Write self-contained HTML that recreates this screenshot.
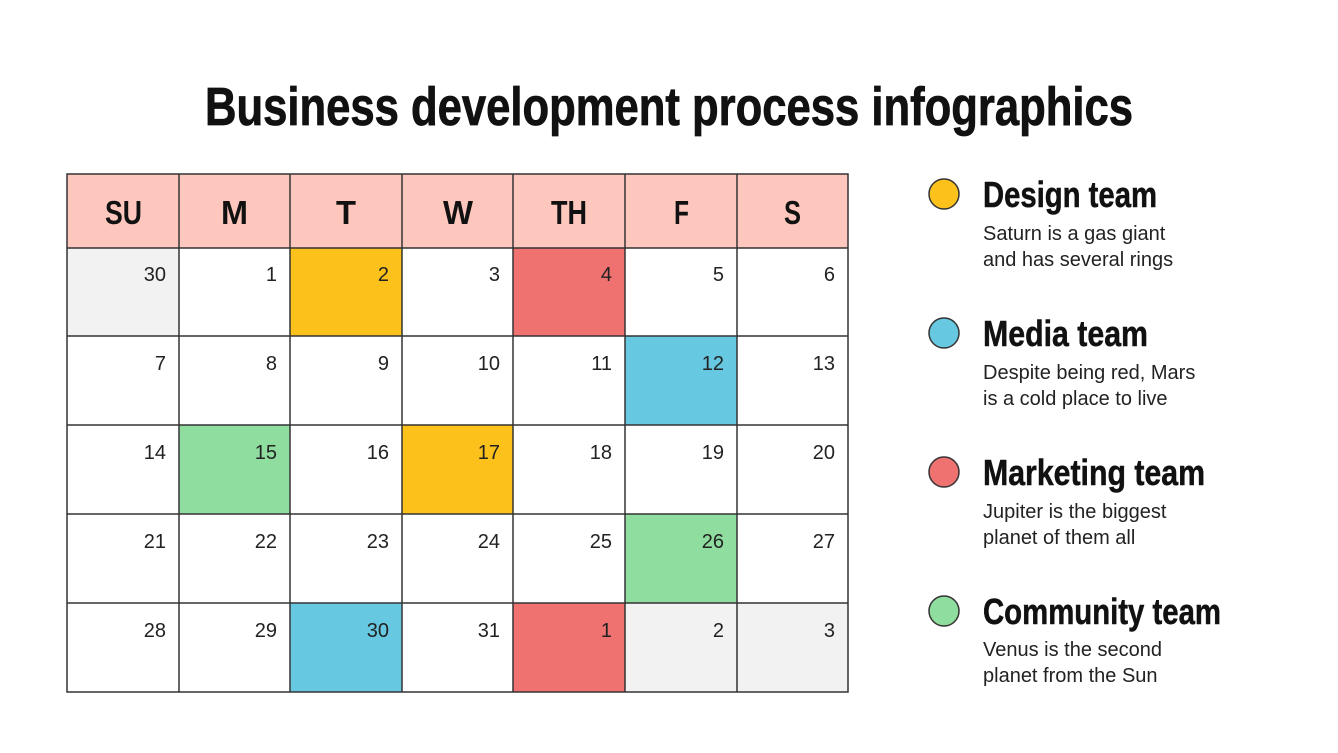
<!DOCTYPE html>
<html><head><meta charset="utf-8"><style>body{margin:0;background:#fff}svg{display:block}</style></head><body>
<svg width="1338" height="753" xmlns="http://www.w3.org/2000/svg" font-family="Liberation Sans, sans-serif">
<rect width="1338" height="753" fill="#fff"/>
<text x="669" y="125" text-anchor="middle" font-family="Liberation Sans Narrow, Liberation Sans, sans-serif" font-weight="bold" font-size="54" textLength="928" lengthAdjust="spacingAndGlyphs" fill="#111" stroke="#111" stroke-width="0.8">Business development process infographics</text>
<g id="cal">
<rect x="67" y="174" width="781" height="74" fill="#fdc7bd"/>
<rect x="67" y="248" width="112" height="88" fill="#f2f2f2"/>
<rect x="290" y="248" width="112" height="88" fill="#fcc11b"/>
<rect x="513" y="248" width="112" height="88" fill="#ef7270"/>
<rect x="625" y="336" width="112" height="89" fill="#67c9e1"/>
<rect x="179" y="425" width="111" height="89" fill="#8fdd9f"/>
<rect x="402" y="425" width="111" height="89" fill="#fcc11b"/>
<rect x="625" y="514" width="112" height="89" fill="#8fdd9f"/>
<rect x="290" y="603" width="112" height="89" fill="#67c9e1"/>
<rect x="513" y="603" width="112" height="89" fill="#ef7270"/>
<rect x="625" y="603" width="223" height="89" fill="#f2f2f2"/>
<g stroke="#333" stroke-width="1.5" fill="none">
<rect x="67" y="174" width="781" height="518"/>
<line x1="179" y1="174" x2="179" y2="692"/><line x1="290" y1="174" x2="290" y2="692"/>
<line x1="402" y1="174" x2="402" y2="692"/><line x1="513" y1="174" x2="513" y2="692"/>
<line x1="625" y1="174" x2="625" y2="692"/><line x1="737" y1="174" x2="737" y2="692"/>
<line x1="67" y1="248" x2="848" y2="248"/><line x1="67" y1="336" x2="848" y2="336"/>
<line x1="67" y1="425" x2="848" y2="425"/><line x1="67" y1="514" x2="848" y2="514"/>
<line x1="67" y1="603" x2="848" y2="603"/>
</g>
<g font-weight="bold" font-size="33" fill="#111">
<text x="105" y="224" textLength="37" lengthAdjust="spacingAndGlyphs">SU</text>
<text x="221" y="224" textLength="27" lengthAdjust="spacingAndGlyphs">M</text>
<text x="336" y="224" textLength="20" lengthAdjust="spacingAndGlyphs">T</text>
<text x="443" y="224" textLength="30" lengthAdjust="spacingAndGlyphs">W</text>
<text x="551" y="224" textLength="36" lengthAdjust="spacingAndGlyphs">TH</text>
<text x="674" y="224" textLength="15" lengthAdjust="spacingAndGlyphs">F</text>
<text x="784" y="224" textLength="17" lengthAdjust="spacingAndGlyphs">S</text>
</g>
<g font-size="20" text-anchor="end" fill="#222">
<text x="166" y="281">30</text><text x="277" y="281">1</text><text x="389" y="281">2</text><text x="500" y="281">3</text><text x="612" y="281">4</text><text x="724" y="281">5</text><text x="835" y="281">6</text>
<text x="166" y="370">7</text><text x="277" y="370">8</text><text x="389" y="370">9</text><text x="500" y="370">10</text><text x="612" y="370">11</text><text x="724" y="370">12</text><text x="835" y="370">13</text>
<text x="166" y="459">14</text><text x="277" y="459">15</text><text x="389" y="459">16</text><text x="500" y="459">17</text><text x="612" y="459">18</text><text x="724" y="459">19</text><text x="835" y="459">20</text>
<text x="166" y="548">21</text><text x="277" y="548">22</text><text x="389" y="548">23</text><text x="500" y="548">24</text><text x="612" y="548">25</text><text x="724" y="548">26</text><text x="835" y="548">27</text>
<text x="166" y="637">28</text><text x="277" y="637">29</text><text x="389" y="637">30</text><text x="500" y="637">31</text><text x="612" y="637">1</text><text x="724" y="637">2</text><text x="835" y="637">3</text>
</g>
</g>
<g stroke="#333" stroke-width="1.5">
<circle cx="944" cy="194" r="15" fill="#fcc11b"/>
<circle cx="944" cy="333" r="15" fill="#67c9e1"/>
<circle cx="944" cy="472" r="15" fill="#ef7270"/>
<circle cx="944" cy="611" r="15" fill="#8fdd9f"/>
</g>
<g font-family="Liberation Sans Narrow, Liberation Sans, sans-serif" font-weight="bold" font-size="36" fill="#111" stroke="#111" stroke-width="0.5">
<text x="983" y="207" textLength="174" lengthAdjust="spacingAndGlyphs">Design team</text>
<text x="983" y="346" textLength="165" lengthAdjust="spacingAndGlyphs">Media team</text>
<text x="983" y="485" textLength="222" lengthAdjust="spacingAndGlyphs">Marketing team</text>
<text x="983" y="624" textLength="238" lengthAdjust="spacingAndGlyphs">Community team</text>
</g>
<g font-size="20" fill="#222">
<text x="983" y="240">Saturn is a gas giant</text><text x="983" y="266">and has several rings</text>
<text x="983" y="379">Despite being red, Mars</text><text x="983" y="405">is a cold place to live</text>
<text x="983" y="518">Jupiter is the biggest</text><text x="983" y="544">planet of them all</text>
<text x="983" y="656">Venus is the second</text><text x="983" y="682">planet from the Sun</text>
</g>
</svg>
</body></html>
